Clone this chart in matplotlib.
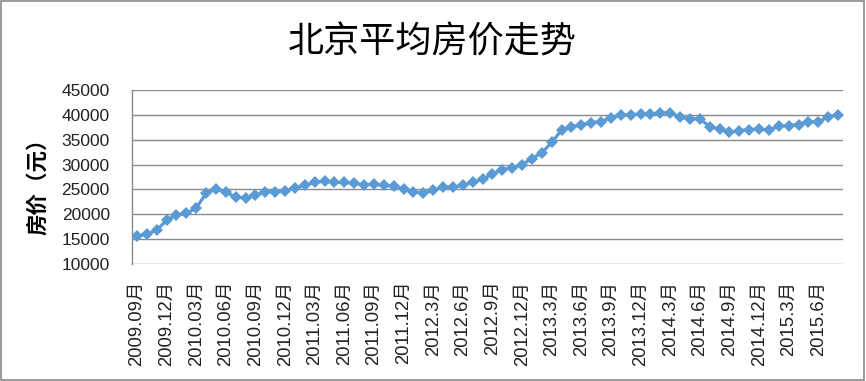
import matplotlib
matplotlib.use("Agg")
import matplotlib.pyplot as plt
from matplotlib.patches import Rectangle

# Monthly average prices, 2009.09 - 2015.08
prices = [15600, 16000, 16800, 18800, 19900, 20200, 21250, 24200, 25050, 24400,
          23500, 23250, 23850, 24500, 24500, 24650, 25330, 25800, 26400, 26650,
          26400, 26400, 26200, 25950, 26000, 25800, 25650, 25050, 24500, 24200,
          24850, 25450, 25400, 25800, 26450, 27050, 28150, 29000, 29350, 30000,
          31200, 32350, 34450, 36950, 37550, 38050, 38450, 38650, 39450, 39900,
          40000, 40180, 40180, 40400, 40450, 39580, 39200, 39200, 37650, 37150,
          36500, 36850, 37050, 37150, 36950, 37700, 37850, 38050, 38650, 38580,
          39580, 40050]

tick_labels = ["2009.09月", "2009.12月", "2010.03月", "2010.06月", "2010.09月",
               "2010.12月", "2011.03月", "2011.06月", "2011.09月", "2011.12月",
               "2012.3月", "2012.6月", "2012.9月", "2012.12月", "2013.3月",
               "2013.6月", "2013.9月", "2013.12月", "2014.3月", "2014.6月",
               "2014.9月", "2014.12月", "2015.3月", "2015.6月"]
tick_step = 3

title = "北京平均房价走势"
ylabel = "房价（元）"
yticks = [10000, 15000, 20000, 25000, 30000, 35000, 40000, 45000]

plt.rcParams['font.family'] = ['Liberation Sans', 'Noto Sans CJK SC', 'DejaVu Sans']

fig = plt.figure(figsize=(8.66, 3.81), dpi=100)
ax = fig.add_axes([132/866, 1-264/381, (843-132)/866, (264-90)/381])

x = list(range(len(prices)))
ax.plot(x, prices, color='#5B9BD5', lw=2.3, marker='D', markersize=6,
        markeredgewidth=0, zorder=3)

ax.set_xlim(-0.5, len(prices) - 0.5)
ax.set_ylim(yticks[0], yticks[-1])
ax.set_yticks(yticks)
ax.set_yticklabels([str(v) for v in yticks], fontsize=12.5, color='#222222')
ax.set_xticks(list(range(0, len(tick_labels) * tick_step, tick_step)))
ax.set_xticklabels(tick_labels, rotation=90, ha='center', va='top', fontsize=13.3,
                   family=['Liberation Sans', 'Noto Sans CJK SC'], color='#222222')
ax.tick_params(axis='y', length=0, pad=16)
ax.tick_params(axis='x', length=0, pad=12)

ax.grid(axis='y', color='#8a8a8a', lw=1)
ax.set_axisbelow(True)
for s in ['top', 'right', 'bottom']:
    ax.spines[s].set_visible(False)
ax.spines['left'].set_color('#8a8a8a')
ax.spines['left'].set_linewidth(1)

fig.text(432/866, 1-42/381, title, ha='center', va='center', fontsize=26,
         family=['Noto Sans CJK SC'], color='#000000')
fig.text(38/866, 1-181/381, ylabel, ha='center', va='center', rotation=90,
         fontsize=15.5, fontweight='bold', family=['Noto Sans CJK SC'])

fig.patches.append(Rectangle((0.001, 0.002), 0.997, 0.995, transform=fig.transFigure,
                             fill=False, edgecolor='#8a8a8a', lw=1.2))

fig.savefig("out.png", dpi=100)
